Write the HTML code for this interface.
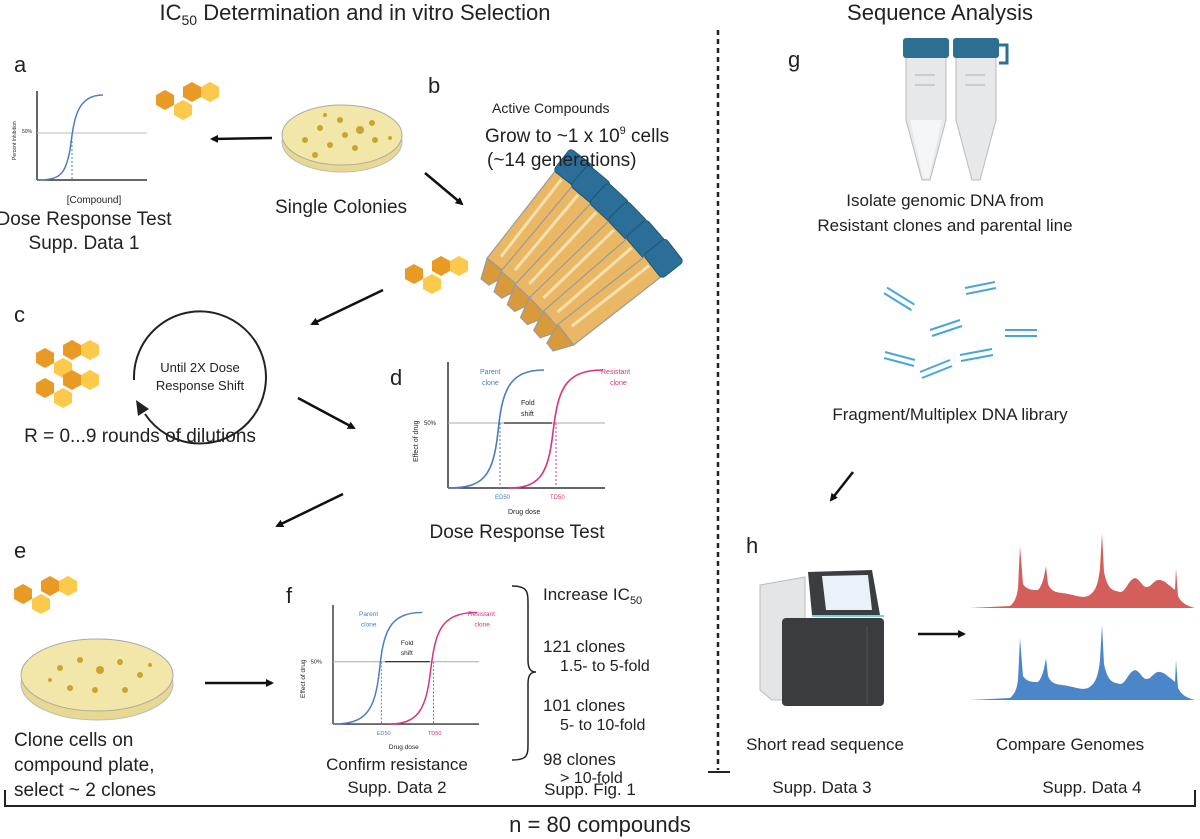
<!DOCTYPE html>
<html><head><meta charset="utf-8"><style>
body{margin:0;background:#fff}
svg{display:block}
text{font-family:"Liberation Sans",sans-serif;fill:#222}
</style></head><body>
<svg width="1200" height="839" viewBox="0 0 1200 839" xmlns="http://www.w3.org/2000/svg">
<defs>
<marker id="ah" markerWidth="8" markerHeight="8" refX="6" refY="4" orient="auto" markerUnits="userSpaceOnUse" viewBox="0 0 8 8"><path d="M0,0 L8,4 L0,8 z" fill="#111"/></marker>
<g id="hex3">
<polygon points="0,13 9,8 18,13 18,23 9,28 0,23" fill="#e89a24"/>
<polygon points="18,23 27,18 36,23 36,33 27,38 18,33" fill="#fcc94a"/>
<polygon points="27,5 36,0 45,5 45,15 36,20 27,15" fill="#e89a24"/>
<polygon points="45,5 54,0 63,5 63,15 54,20 45,15" fill="#fcc94a"/>
</g>
<g id="tube">
<rect x="20" y="-13" width="112" height="26" fill="#eab865" stroke="#9a9a9a" stroke-width="1.2"/>
<path d="M20,-13 L0,-5 L0,5 L20,13 Z" fill="#d99a3c" stroke="#9a9a9a" stroke-width="1.2"/>
<line x1="30" y1="-3" x2="128" y2="-3" stroke="#f6e0b0" stroke-width="3"/>
<rect x="130" y="-15" width="28" height="30" rx="4" fill="#2b6f98" stroke="#1d5678"/>
</g>
<g id="peaks">
<path d="M0,0 L40,-2 C45,-6 47,-12 48,-20 L50,-62 L53,-24 C57,-18 62,-18 68,-18 C72,-22 74,-30 76,-42 L78,-24 C82,-14 90,-16 98,-14 C108,-12 112,-10 118,-12 C125,-16 128,-22 130,-40 L132,-75 L134,-36 C138,-18 142,-18 150,-16 C156,-16 158,-28 165,-30 C172,-28 172,-18 180,-22 C186,-28 188,-30 195,-26 C200,-22 203,-20 205,-18 L206,-40 L208,-12 C212,-4 218,-2 225,0 Z"/>
</g>
</defs>

<text x="355" y="20" font-size="22" text-anchor="middle">IC<tspan font-size="14" dy="5">50</tspan><tspan dy="-5"> Determination and in vitro Selection</tspan></text>
<text x="940" y="20" font-size="22" text-anchor="middle">Sequence Analysis</text>

<line x1="718" y1="30" x2="718" y2="770" stroke="#222" stroke-width="2.5" stroke-dasharray="5,4"/>
<line x1="708" y1="772" x2="730" y2="772" stroke="#222" stroke-width="2"/>

<path d="M5,790 V806 H1195 V790" fill="none" stroke="#222" stroke-width="2"/>
<text x="600" y="832" font-size="22" text-anchor="middle">n = 80 compounds</text>

<!-- panel a -->
<text x="14" y="72" font-size="22">a</text>
<line x1="37" y1="91" x2="37" y2="180" stroke="#333" stroke-width="1.5"/>
<line x1="37" y1="180" x2="147" y2="180" stroke="#333" stroke-width="1.5"/>
<line x1="37" y1="133" x2="147" y2="133" stroke="#bbb" stroke-width="1"/>
<path d="M37,180 C60,180 65,175 70,150 C74,120 76,95 103,95" fill="none" stroke="#4a7cc4" stroke-width="1.5"/>
<line x1="72" y1="133" x2="72" y2="180" stroke="#4a7cc4" stroke-dasharray="2,2"/>
<text x="22" y="133" font-size="5">50%</text>
<text x="16" y="160" font-size="5" transform="rotate(-90 16 160)">Percent Inhibition</text>
<text x="94" y="203" font-size="10" text-anchor="middle">[Compound]</text>
<text x="84" y="225" font-size="19" text-anchor="middle">Dose Response Test</text>
<text x="84" y="249" font-size="19" text-anchor="middle">Supp. Data 1</text>
<use href="#hex3" x="156" y="82"/>
<line x1="272" y1="138" x2="212" y2="139" stroke="#111" stroke-width="2.5" marker-end="url(#ah)"/>

<ellipse cx="342" cy="142" rx="60" ry="30" fill="#e9d890" stroke="#bbb"/>
<ellipse cx="342" cy="135" rx="60" ry="30" fill="#f2e6a8" stroke="#aaa"/>
<g fill="#c9a530">
<circle cx="320" cy="128" r="3"/><circle cx="340" cy="120" r="3"/><circle cx="360" cy="130" r="4"/><circle cx="330" cy="145" r="3"/><circle cx="355" cy="148" r="3"/><circle cx="375" cy="140" r="3"/><circle cx="305" cy="140" r="3"/><circle cx="345" cy="135" r="3"/><circle cx="325" cy="115" r="2"/><circle cx="372" cy="123" r="3"/><circle cx="315" cy="155" r="3"/><circle cx="390" cy="138" r="2"/>
</g>
<text x="341" y="213" font-size="19" text-anchor="middle">Single Colonies</text>
<line x1="425" y1="173" x2="462" y2="204" stroke="#111" stroke-width="2.5" marker-end="url(#ah)"/>

<!-- panel b -->
<use href="#tube" transform="translate(485,282) rotate(-52)"/>
<use href="#tube" transform="translate(498,295) rotate(-50)"/>
<use href="#tube" transform="translate(511,308) rotate(-47)"/>
<use href="#tube" transform="translate(524,321) rotate(-44)"/>
<use href="#tube" transform="translate(537,334) rotate(-41)"/>
<use href="#tube" transform="translate(550,347) rotate(-38)"/>
<text x="428" y="93" font-size="22">b</text>
<text x="492" y="113" font-size="14">Active Compounds</text>
<text x="485" y="142" font-size="19">Grow to ~1 x 10<tspan font-size="11" dy="-8">9</tspan><tspan dy="8"> cells</tspan></text>
<text x="487" y="166" font-size="19">(~14 generations)</text>
<use href="#hex3" x="405" y="256"/>
<line x1="383" y1="290" x2="312" y2="324" stroke="#111" stroke-width="2.5" marker-end="url(#ah)"/>

<!-- panel c -->
<text x="14" y="322" font-size="22">c</text>
<use href="#hex3" x="36" y="340"/>
<use href="#hex3" x="36" y="370"/>
<path d="M134,380 A66,66 0 1 1 145,414" fill="none" stroke="#222" stroke-width="2"/>
<path d="M136,400 L149,409 L138,416 Z" fill="#222"/>
<text x="200" y="372" font-size="13" text-anchor="middle">Until 2X Dose</text>
<text x="200" y="390" font-size="13" text-anchor="middle">Response Shift</text>
<text x="140" y="442" font-size="19" text-anchor="middle">R = 0...9 rounds of dilutions</text>
<line x1="298" y1="398" x2="354" y2="428" stroke="#111" stroke-width="2.5" marker-end="url(#ah)"/>

<!-- panel d -->
<text x="390" y="385" font-size="22">d</text>
<g transform="translate(448,362)">
<line x1="0" y1="0" x2="0" y2="126" stroke="#333" stroke-width="1.5"/>
<line x1="0" y1="126" x2="157" y2="126" stroke="#333" stroke-width="1.5"/>
<line x1="0" y1="61" x2="157" y2="61" stroke="#aaa"/>
<path d="M0,126 C35,126 45,115 50,70 C54,30 60,8 96,8" fill="none" stroke="#4a7cc4" stroke-width="1.6"/>
<path d="M60,126 C90,126 100,115 105,70 C110,30 115,8 155,8" fill="none" stroke="#d9337f" stroke-width="1.6"/>
<line x1="52" y1="61" x2="52" y2="126" stroke="#4a7cc4" stroke-dasharray="2,2"/>
<line x1="108" y1="61" x2="108" y2="126" stroke="#d9337f" stroke-dasharray="2,2"/>
<line x1="56" y1="61" x2="104" y2="61" stroke="#222" stroke-width="1.2"/>
<text x="32" y="12" font-size="7" style="fill:#4a7cc4">Parent</text>
<text x="34" y="23" font-size="7" style="fill:#4a7cc4">clone</text>
<text x="153" y="12" font-size="7" style="fill:#d9337f">Resistant</text>
<text x="162" y="23" font-size="7" style="fill:#d9337f">clone</text>
<text x="73" y="43" font-size="7">Fold</text><text x="73" y="54" font-size="7">shift</text>
<text x="-24" y="63" font-size="6">50%</text>
<text x="-30" y="100" font-size="7" transform="rotate(-90 -30 100)">Effect of drug</text>
<text x="47" y="137" font-size="6" style="fill:#4a7cc4">ED50</text>
<text x="102" y="137" font-size="6" style="fill:#d9337f">TD50</text>
<text x="60" y="152" font-size="7">Drug dose</text>
</g>
<text x="517" y="538" font-size="19" text-anchor="middle">Dose Response Test</text>
<line x1="343" y1="494" x2="277" y2="526" stroke="#111" stroke-width="2.5" marker-end="url(#ah)"/>

<!-- panel e -->
<text x="14" y="558" font-size="22">e</text>
<use href="#hex3" x="14" y="576"/>
<ellipse cx="97" cy="684" rx="76" ry="36" fill="#e9d890" stroke="#bbb"/>
<ellipse cx="97" cy="675" rx="76" ry="36" fill="#f2e6a8" stroke="#aaa"/>
<g fill="#c9a530">
<circle cx="60" cy="668" r="3"/><circle cx="80" cy="660" r="3"/><circle cx="100" cy="670" r="4"/><circle cx="120" cy="662" r="3"/><circle cx="140" cy="675" r="3"/><circle cx="70" cy="688" r="3"/><circle cx="95" cy="690" r="3"/><circle cx="125" cy="690" r="3"/><circle cx="50" cy="680" r="2"/><circle cx="150" cy="665" r="2"/>
</g>
<text x="14" y="746" font-size="19">Clone cells on</text>
<text x="14" y="771" font-size="19">compound plate,</text>
<text x="14" y="796" font-size="19">select  ~ 2 clones</text>
<line x1="205" y1="683" x2="272" y2="683" stroke="#111" stroke-width="2.5" marker-end="url(#ah)"/>

<!-- panel f -->
<text x="286" y="603" font-size="22">f</text>
<g transform="translate(333,605) scale(0.93)">
<line x1="0" y1="0" x2="0" y2="128" stroke="#333" stroke-width="1.5"/>
<line x1="0" y1="128" x2="157" y2="128" stroke="#333" stroke-width="1.5"/>
<line x1="0" y1="61" x2="157" y2="61" stroke="#aaa"/>
<path d="M0,128 C35,128 45,115 50,70 C54,30 60,8 96,8" fill="none" stroke="#4a7cc4" stroke-width="1.6"/>
<path d="M60,128 C90,128 100,115 105,70 C110,30 115,8 155,8" fill="none" stroke="#d9337f" stroke-width="1.6"/>
<line x1="52" y1="61" x2="52" y2="128" stroke="#4a7cc4" stroke-dasharray="2,2"/>
<line x1="108" y1="61" x2="108" y2="128" stroke="#d9337f" stroke-dasharray="2,2"/>
<line x1="56" y1="61" x2="104" y2="61" stroke="#222" stroke-width="1.2"/>
<text x="28" y="12" font-size="7" style="fill:#4a7cc4">Parent</text>
<text x="30" y="23" font-size="7" style="fill:#4a7cc4">clone</text>
<text x="145" y="12" font-size="7" style="fill:#d9337f">Resistant</text>
<text x="152" y="23" font-size="7" style="fill:#d9337f">clone</text>
<text x="73" y="43" font-size="7">Fold</text><text x="73" y="54" font-size="7">shift</text>
<text x="-24" y="63" font-size="6">50%</text>
<text x="-30" y="100" font-size="7" transform="rotate(-90 -30 100)">Effect of drug</text>
<text x="47" y="140" font-size="6" style="fill:#4a7cc4">ED50</text>
<text x="102" y="140" font-size="6" style="fill:#d9337f">TD50</text>
<text x="60" y="155" font-size="7">Drug dose</text>
</g>
<text x="397" y="770" font-size="17" text-anchor="middle">Confirm resistance</text>
<text x="397" y="793" font-size="17" text-anchor="middle">Supp. Data 2</text>

<path d="M512,586 C528,586 528,592 528,605 V660 C528,668 530,672 536,672 C530,672 528,676 528,684 V742 C528,755 528,760 512,760" fill="none" stroke="#222" stroke-width="1.5"/>
<text x="543" y="600" font-size="17">Increase IC<tspan font-size="11" dy="4">50</tspan></text>
<text x="543" y="652" font-size="17">121 clones</text>
<text x="560" y="671" font-size="16">1.5- to 5-fold</text>
<text x="543" y="711" font-size="17">101 clones</text>
<text x="560" y="730" font-size="16">5- to 10-fold</text>
<text x="543" y="765" font-size="17">98 clones</text>
<text x="560" y="783" font-size="16">&gt; 10-fold</text>
<text x="590" y="795" font-size="17" text-anchor="middle">Supp. Fig. 1</text>

<!-- panel g -->
<text x="788" y="67" font-size="22">g</text>
<g>
<path d="M906,55 H946 V120 L930,180 H922 L906,120 Z" fill="#e6e8ea" stroke="#bbb"/>
<path d="M910,120 H942 L929,178 H923 Z" fill="#f4f5f6"/>
<rect x="903" y="38" width="46" height="20" rx="3" fill="#2d6e93"/>
<path d="M956,55 H996 V120 L980,180 H972 L956,120 Z" fill="#e6e8ea" stroke="#bbb"/>
<rect x="953" y="38" width="46" height="20" rx="3" fill="#2d6e93"/>
<path d="M999,45 h8 v18 h-8" fill="none" stroke="#2d6e93" stroke-width="3"/>
<line x1="915" y1="75" x2="935" y2="75" stroke="#ccc" stroke-width="2"/><line x1="915" y1="85" x2="935" y2="85" stroke="#ccc" stroke-width="2"/>
<line x1="965" y1="75" x2="985" y2="75" stroke="#ccc" stroke-width="2"/><line x1="965" y1="85" x2="985" y2="85" stroke="#ccc" stroke-width="2"/>
</g>
<text x="945" y="206" font-size="17" text-anchor="middle">Isolate genomic DNA from</text>
<text x="945" y="231" font-size="17" text-anchor="middle">Resistant clones and parental line</text>
<g stroke="#4aa6d8" stroke-width="2" fill="none">
<path d="M885,290 l30,12 M883,296 l30,12" transform="rotate(10 900 300)"/>
<path d="M965,288 l30,-6 M966,294 l30,-6"/>
<path d="M930,330 l30,-10 M932,336 l30,-10"/>
<path d="M1005,330 l32,0 M1005,336 l32,0"/>
<path d="M885,352 l30,8 M884,358 l30,8"/>
<path d="M960,355 l32,-6 M961,361 l32,-6"/>
<path d="M920,372 l30,-12 M922,378 l30,-12"/>
</g>
<text x="950" y="420" font-size="17" text-anchor="middle">Fragment/Multiplex DNA library</text>
<line x1="853" y1="472" x2="831" y2="500" stroke="#111" stroke-width="2.5" marker-end="url(#ah)"/>

<!-- panel h -->
<text x="746" y="553" font-size="22">h</text>
<g>
<path d="M760,585 L805,577 V695 L795,700 H772 L760,690 Z" fill="#e3e5e7" stroke="#bbb"/>
<path d="M808,572 L872,570 L880,615 H812 Z" fill="#3b3d40"/>
<path d="M822,576 L868,575 L872,610 H826 Z" fill="#eaf2f8"/>
<rect x="782" y="618" width="102" height="88" rx="4" fill="#3a3c3f"/>
<line x1="867" y1="626" x2="867" y2="704" stroke="#555"/>
<line x1="812" y1="616" x2="884" y2="616" stroke="#7fd0d0" stroke-width="2"/>
</g>
<line x1="918" y1="634" x2="964" y2="634" stroke="#111" stroke-width="2.5" marker-end="url(#ah)"/>
<use href="#peaks" transform="translate(970,608)" fill="#d45f5a"/>
<use href="#peaks" transform="translate(970,700)" fill="#4a86c8"/>
<text x="825" y="750" font-size="17" text-anchor="middle">Short read sequence</text>
<text x="1070" y="750" font-size="17" text-anchor="middle">Compare Genomes</text>
<text x="822" y="793" font-size="17" text-anchor="middle">Supp. Data 3</text>
<text x="1092" y="793" font-size="17" text-anchor="middle">Supp. Data 4</text>
</svg>
</body></html>
